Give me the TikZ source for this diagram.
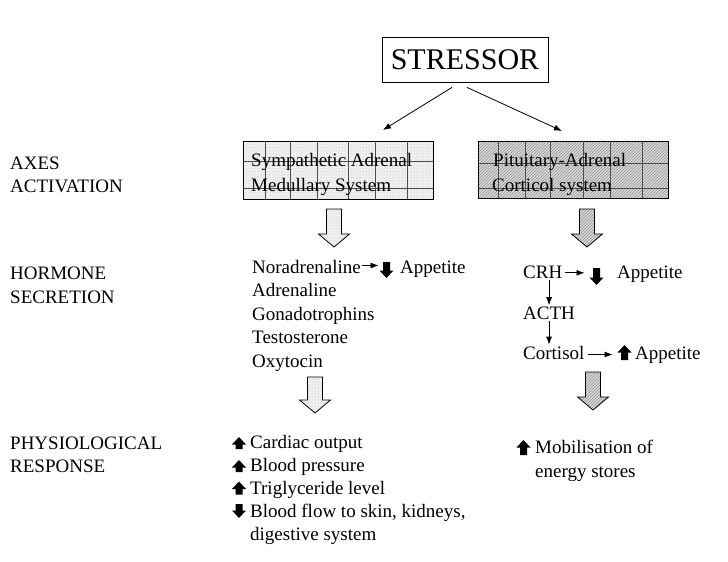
\documentclass[tikz,border=0pt]{standalone}
\usepackage{fontspec}
\setmainfont{Liberation Serif}
\usetikzlibrary{arrows.meta,patterns}

\begin{document}
\begin{tikzpicture}[x=1pt,y=1pt,
  txt/.style={anchor=base west,font=\fontsize{19}{23.5}\selectfont},
  thinarr/.style={-{Latex[length=8pt,width=6pt]},line width=0.8pt},
  gridline/.style={gray!60!black,line width=0.5pt},
  dotfill/.style={draw,line width=0.8pt,preaction={fill=gray!12},pattern=dots,pattern color=gray!60},
  hatchfill/.style={draw,line width=0.8pt,preaction={fill=gray!30},pattern=north east lines,pattern color=gray!85},
  pics/blockdown/.style n args={2}{code={
    \path [#2] (-7.5,0) -- (7.5,0) -- (7.5,-#1+13) -- (15.5,-#1+13) -- (0,-#1)
      -- (-15.5,-#1+13) -- (-7.5,-#1+13) -- cycle;}},
  pics/fatarrow/.style={code={
    \fill (-3.5,-#1) -- (3.5,-#1) -- (3.5,#1-7.5) -- (7,#1-7.5) -- (0,#1)
      -- (-7,#1-7.5) -- (-3.5,#1-7.5) -- cycle;
    \coordinate (-west) at (-7,0);}}]
\tikzstyle{every node}+=[inner sep=0pt]
\useasboundingbox (0,0) rectangle (728,-562);
\node (stressor) [draw,line width=0.8pt,minimum width=166,minimum height=45,font=\fontsize{30}{35}\selectfont] at (465,-59.5) {STRESSOR};
\coordinate (sympin) at (383,-130);
\coordinate (pitin) at (562,-131);
\draw [thinarr] ([shift={(-13,-5)}]stressor.south) -- (sympin);
\draw [thinarr] ([shift={(2,-5)}]stressor.south) -- (pitin);
\node (axes) [txt] at (10,-169) {AXES};
\node (activ) [txt] at (10,-192) {ACTIVATION};
\node (hormone) [txt] at (10,-279) {HORMONE};
\node (secret) [txt] at (10,-303) {SECRETION};
\node (physio) [txt] at (10,-449) {PHYSIOLOGICAL};
\node (resp) [txt] at (10,-472) {RESPONSE};
\node (symp) [dotfill,minimum width=190,minimum height=58] at (338,-170) {};
\foreach \x in {265,290,317,348,375,407}
  \draw [gridline] (\x,-141) -- (\x,-199);
\foreach \y in {-161,-188}
  \draw [gridline] (243,\y) -- (433,\y);
\node (symptxt) [txt] at (251,-166) {Sympathetic Adrenal};
\node (medtxt) [txt] at (251,-191) {Medullary System};
\node (pit) [hatchfill,minimum width=190,minimum height=57] at (573,-169.5) {};
\foreach \x in {498,525,550,583,610,642}
  \draw [gridline] (\x,-141) -- (\x,-198);
\foreach \y in {-163,-188}
  \draw [gridline] (478,\y) -- (668,\y);
\node (pittxt) [txt] at (493,-166) {Pituitary-Adrenal};
\node (cortxt) [txt] at (492,-191) {Corticol system};
\pic (sympdown) at (334,-209) {blockdown={38}{dotfill}};
\pic (pitdown) at (587,-209) {blockdown={38}{hatchfill}};
\node (nora) [txt] at (252,-273) {Noradrenaline};
\node (adren) [txt] at (252,-296.5) {Adrenaline};
\node (gonad) [txt] at (252,-320) {Gonadotrophins};
\node (testo) [txt] at (252,-343.5) {Testosterone};
\node (oxy) [txt] at (252,-367) {Oxytocin};
\pic [yscale=-1] (noradown) at (386.5,-270) {fatarrow=8};
\node (appl) [txt] at (400,-273) {Appetite};
\draw [thinarr,shorten <=1pt,shorten >=1pt] ([yshift=1pt]nora.east) -- ([yshift=1pt]nora.east -| noradown-west);
\node (crh) [txt] at (523,-278) {CRH};
\node (acth) [txt] at (523,-319) {ACTH};
\node (cortisol) [txt] at (523,-359) {Cortisol};
\pic [yscale=-1] (crhdown) at (596.5,-276.5) {fatarrow=8.5};
\node (appcrh) [txt] at (617,-278) {Appetite};
\pic (cortup) at (624.5,-352.5) {fatarrow=7.5};
\node (appcort) [txt] at (635,-359) {Appetite};
\draw [thinarr,shorten <=3pt,shorten >=5pt] ([yshift=-1pt]crh.east) -- ([yshift=-1pt]crh.east -| crhdown-west);
\draw [thinarr,shorten <=3pt,shorten >=5pt] ([yshift=-2pt]cortisol.east) -- ([yshift=-2pt]cortisol.east -| cortup-west);
\draw [thinarr,shorten <=2pt,shorten >=1pt] (acth.north |- crh.south) -- (acth.north);
\draw [thinarr,shorten <=2pt,shorten >=1pt] (acth.south) -- (acth.south |- cortisol.north);
\pic (sympresp) at (315,-377) {blockdown={36}{dotfill}};
\pic (pitresp) at (593,-372) {blockdown={38}{hatchfill}};
\pic (up1) at (239,-443) {fatarrow=6};
\node (cardiac) [txt] at (250,-448) {Cardiac output};
\pic (up2) at (239,-466) {fatarrow=6};
\node (bp) [txt] at (250,-471) {Blood pressure};
\pic (up3) at (239,-488) {fatarrow=6.5};
\node (trig) [txt] at (250,-494) {Triglyceride level};
\pic [yscale=-1] (down4) at (239,-511) {fatarrow=7};
\node (flow) [txt] at (250,-517) {Blood flow to skin, kidneys,};
\node (digest) [txt] at (250,-540) {digestive system};
\pic (upmob) at (523.5,-447.5) {fatarrow=7.5};
\node (mob) [txt] at (535,-453) {Mobilisation of};
\node (energy) [txt] at (535,-477) {energy stores};
\end{tikzpicture}
\end{document}
